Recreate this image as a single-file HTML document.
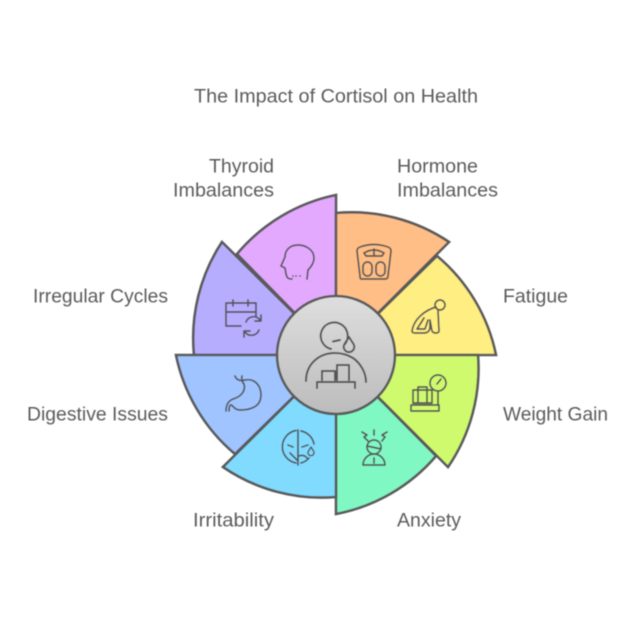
<!DOCTYPE html>
<html><head><meta charset="utf-8"><style>
html,body{margin:0;padding:0;background:#fff;width:640px;height:640px;overflow:hidden}
svg{display:block}
text{font-family:"Liberation Sans",sans-serif;font-size:19.5px;fill:#5c5c5c}
.w{stroke:#5a5a5a;stroke-width:2.6;stroke-linejoin:miter}
.i{fill:none;stroke:#555;stroke-width:1.7;stroke-linecap:round;stroke-linejoin:round}
</style></head><body>
<svg width="640" height="640" viewBox="0 0 640 640" xmlns="http://www.w3.org/2000/svg">
<defs>
<filter id="b" x="-5%" y="-5%" width="110%" height="110%"><feGaussianBlur stdDeviation="0.45"/></filter>
<linearGradient id="g" x1="0" y1="0" x2="0" y2="1"><stop offset="0" stop-color="#dedede"/><stop offset="1" stop-color="#bcbcbc"/></linearGradient>
</defs>
<g filter="url(#b)">
<text x="194" y="102.500" textLength="284" lengthAdjust="spacingAndGlyphs">The Impact of Cortisol on Health</text>
<text x="209" y="172.500" textLength="65" lengthAdjust="spacingAndGlyphs">Thyroid</text>
<text x="173" y="196.500" textLength="101" lengthAdjust="spacingAndGlyphs">Imbalances</text>
<text x="397" y="172.500" textLength="81" lengthAdjust="spacingAndGlyphs">Hormone</text>
<text x="397" y="196.500" textLength="101" lengthAdjust="spacingAndGlyphs">Imbalances</text>
<text x="503" y="302.500" textLength="65" lengthAdjust="spacingAndGlyphs">Fatigue</text>
<text x="503" y="420.500" textLength="105" lengthAdjust="spacingAndGlyphs">Weight Gain</text>
<text x="397" y="526.500" textLength="64" lengthAdjust="spacingAndGlyphs">Anxiety</text>
<text x="193" y="526.500" textLength="81" lengthAdjust="spacingAndGlyphs">Irritability</text>
<text x="27" y="420.500" textLength="141" lengthAdjust="spacingAndGlyphs">Digestive Issues</text>
<text x="33" y="302.500" textLength="135" lengthAdjust="spacingAndGlyphs">Irregular Cycles</text>

<path class="w" fill="#B7ADFF" d="M194 355 A175 175 0 0 1 222 242 L336 355 Z"/>
<path class="w" fill="#E3A9FF" d="M237 254 A175 175 0 0 1 336 195 L336 355 Z"/>
<path class="w" fill="#FFBE85" d="M336 213 A175 175 0 0 1 449 242 L336 355 Z"/>
<path class="w" fill="#FFEE82" d="M437 256 A175 175 0 0 1 496 355 L336 355 Z"/>
<path class="w" fill="#CFFA6E" d="M478 355 A175 175 0 0 1 448 467 L336 355 Z"/>
<path class="w" fill="#80F8C4" d="M436 456 A175 175 0 0 1 336 514 L336 355 Z"/>
<path class="w" fill="#80DBFF" d="M336 497 A175 175 0 0 1 223 467 L336 355 Z"/>
<path class="w" fill="#A0C4FF" d="M235 454 A175 175 0 0 1 176 355 L336 355 Z"/>
<circle class="w" cx="336" cy="355" r="59" fill="url(#g)"/>

<!-- center icon -->
<path class="i" style="stroke-width:2" d="M345 344 A13.500 13.500 0 1 0 331 349 M333 341.500 L340 340 M306 381 C306 364 319 353 335 353 C342 353 348 355 353 358 C360 363 366 372 366 382 M322 380 V371 H335 V380 M337 380 V365 H349 V380 M317 388 V382 H355 V388 M349 337 L344.500 344 A5.300 5.300 0 1 0 353.500 344 Z"/>
<!-- head -->
<path class="i" d="M307 279 L308 270 C312 266 314 262 314 258 C314 250 306 245 298 245 C290 245 285 250 285 257 L281 266 L285 268 L286 274 C287 278 288 279 292 279 M293 276 v.1 M296 276 v.1 M300 276 v.1"/>
<!-- calendar -->
<path class="i" d="M241 326 H226 V303 H256 V316 M226 312 H256 M233 300 V306 M248 300 V306 M246 322 A8 8 0 0 1 260 320 M261 315 V321 H255 M259 330 A8 8 0 0 1 245 332 M244 337 V331 H250"/>
<!-- scale -->
<path class="i" d="M361 279 H385 Q388 279 388 276 L391 251 Q391 248 388 247 Q374 242 360 247 Q357 248 357 251 L360 276 Q360 279 361 279 Z M364 253 Q374 247 384 253 L382 256 H366 Z M374 249 V256"/>
<rect class="i" x="363" y="262" width="9" height="14" rx="4.500"/>
<rect class="i" x="376" y="262" width="9" height="14" rx="4.500"/>
<!-- fatigue -->
<circle class="i" cx="440" cy="305" r="5"/>
<path class="i" d="M436 307 C426 310 414 318 412 331 Q412 333 415 333 H424 Q429 333 430 328 L430 320 L432 331 Q433 333 436 333 Q439 333 439 331 L438 311 M424 318 L417 329 H425 L428 320"/>
<!-- weight gain -->
<circle class="i" cx="438" cy="383" r="8"/>
<path class="i" d="M437 384 L441 379 M438 391 V405 M411 411 V405 H439 V411 Z M413 390 H432 V403 H413 Z M418 390 V403 M427 390 V403 M418 390 V387 H427 V390"/>
<!-- anxiety -->
<path class="i" d="M362 432 L367 435 L364 437 L368 441 M374 430 V435 M387 432 L382 435 L385 437 L382 441 M367 446 L381 449 M363 465 H385 C385 459 380 454 374 454 C368 454 363 459 363 465 Z M374 458 V463"/>
<circle class="i" cx="374" cy="447" r="7"/>
<!-- irritability -->
<path class="i" d="M296 430.500 A16.500 16.500 0 0 0 296 463 M301 431 A16.500 16.500 0 0 1 314 444 M309 458 A16.500 16.500 0 0 1 301 463 M298 430 V465 M288 445 L293 447 M302 447 L308 445 M290 453 L297 460 M299 456 Q304 454 307 458"/>
<path class="i" d="M311 447 L308.500 451 A3 3 0 1 0 313.500 451 Z" style="stroke-width:1.500"/>
<!-- stomach -->
<path class="i" d="M235 376 Q237 382 245 380 C255 378 261 386 261 395 C261 407 250 410 240 410 C234 410 233 405 231 405 C229 405 229 409 229 411 M242 376 Q241 381 244 384 C246 392 240 397 233 399 C228 401 226 405 226 411"/>
</g>
</svg>
</body></html>
